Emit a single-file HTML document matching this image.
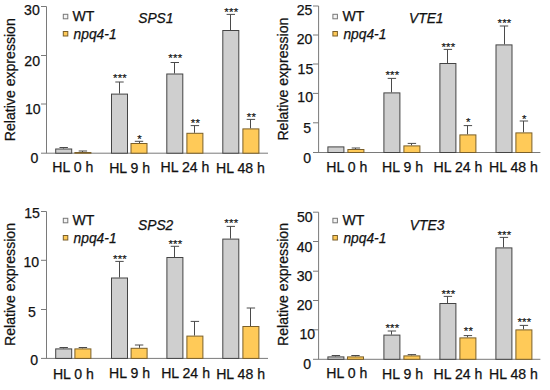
<!DOCTYPE html>
<html><head><meta charset="utf-8"><style>
html,body{margin:0;padding:0;background:#fff;width:550px;height:390px;overflow:hidden}
svg{display:block}
.t{font-family:"Liberation Sans", sans-serif;font-size:14.1px;fill:#111;stroke:#111;stroke-width:0.25px}
.i{font-style:italic;font-size:13.8px}
.s{font-family:"Liberation Sans", sans-serif;font-size:11.5px;fill:#111;stroke:#111;stroke-width:0.15px;letter-spacing:0.2px}
</style></head><body>
<svg width="550" height="390" viewBox="0 0 550 390">
<rect width="550" height="390" fill="#fff"/>
<path d="M46.5 6.5V153.2M41 153.2H268" stroke="#7a7a7a" stroke-width="1" fill="none"/>
<path d="M41 6.5H46.5" stroke="#7a7a7a" stroke-width="1"/>
<path d="M41 55.5H46.5" stroke="#7a7a7a" stroke-width="1"/>
<path d="M41 104H46.5" stroke="#7a7a7a" stroke-width="1"/>
<path d="M63.5 148.5V147.5M59.5 147.5H67.9" stroke="#4a4a4a" stroke-width="1" fill="none"/>
<rect x="55.7" y="149" width="16" height="4.2" fill="#cfcfcf" stroke="#444444" stroke-width="1"/>
<path d="M82.5 152V151M78.7 151H87.1" stroke="#4a4a4a" stroke-width="1" fill="none"/>
<rect x="74.9" y="152.5" width="16" height="0.7" fill="#ffca58" stroke="#7a5f2a" stroke-width="1"/>
<path d="M119.5 93.6V82M115.3 82H123.7" stroke="#4a4a4a" stroke-width="1" fill="none"/>
<rect x="111.5" y="94.1" width="16" height="59.1" fill="#cfcfcf" stroke="#444444" stroke-width="1"/>
<text x="120" y="81.6" text-anchor="middle" class="s">***</text>
<path d="M139.5 143V141.3M134.8 141.3H143.2" stroke="#4a4a4a" stroke-width="1" fill="none"/>
<rect x="131" y="143.5" width="16" height="9.7" fill="#ffca58" stroke="#7a5f2a" stroke-width="1"/>
<text x="139.5" y="143" text-anchor="middle" class="s">*</text>
<path d="M174.5 73.5V62.5M170.6 62.5H179" stroke="#4a4a4a" stroke-width="1" fill="none"/>
<rect x="166.8" y="74" width="16" height="79.2" fill="#cfcfcf" stroke="#444444" stroke-width="1"/>
<text x="175.3" y="62" text-anchor="middle" class="s">***</text>
<path d="M194.5 132.8V125.6M190.7 125.6H199.1" stroke="#4a4a4a" stroke-width="1" fill="none"/>
<rect x="186.9" y="133.3" width="16" height="19.9" fill="#ffca58" stroke="#7a5f2a" stroke-width="1"/>
<text x="195.4" y="127" text-anchor="middle" class="s">**</text>
<path d="M230.5 30V14.4M226.6 14.4H235" stroke="#4a4a4a" stroke-width="1" fill="none"/>
<rect x="222.8" y="30.5" width="16" height="122.7" fill="#cfcfcf" stroke="#444444" stroke-width="1"/>
<text x="231.3" y="16" text-anchor="middle" class="s">***</text>
<path d="M250.5 128.4V119.4M246.7 119.4H255.1" stroke="#4a4a4a" stroke-width="1" fill="none"/>
<rect x="242.9" y="128.9" width="16" height="24.3" fill="#ffca58" stroke="#7a5f2a" stroke-width="1"/>
<text x="251.4" y="121" text-anchor="middle" class="s">**</text>
<rect x="63.3" y="14.3" width="4.5" height="4.5" fill="#f4f4f4" stroke="#777" stroke-width="1"/>
<rect x="63.3" y="31.5" width="4.5" height="4.5" fill="#ffca58" stroke="#7a5f2a" stroke-width="1"/>
<text id="p1_t30" x="39.8" y="15" class="t" text-anchor="end">30</text>
<text id="p1_t20" x="40" y="65.6" class="t" text-anchor="end">20</text>
<text id="p1_t10" x="40.6" y="113.9" class="t" text-anchor="end">10</text>
<text id="p1_t0" x="38.4" y="163.2" class="t" text-anchor="end">0</text>
<text id="p1_wt" x="72.5" y="21.3" class="t">WT</text>
<text id="p1_np" x="73.6" y="38.9" class="t i">npq4-1</text>
<text id="p1_title" x="138.2" y="22.5" class="t i">SPS1</text>
<text id="p1_ylab" transform="translate(15.4 141.2) rotate(-90)" class="t">Relative expression</text>
<text id="p1_x0" x="72.75" y="172.3" class="t" text-anchor="middle">HL 0 h</text>
<text id="p1_x1" x="129.7" y="172.9" class="t" text-anchor="middle">HL 9 h</text>
<text id="p1_x2" x="185" y="172.3" class="t" text-anchor="middle">HL 24 h</text>
<text id="p1_x3" x="240.5" y="172.5" class="t" text-anchor="middle">HL 48 h</text>
<path d="M318.6 6V152.5M313 152.5H540.4" stroke="#7a7a7a" stroke-width="1" fill="none"/>
<path d="M313 6H318.6" stroke="#7a7a7a" stroke-width="1"/>
<path d="M313 35H318.6" stroke="#7a7a7a" stroke-width="1"/>
<path d="M313 64H318.6" stroke="#7a7a7a" stroke-width="1"/>
<path d="M313 93.4H318.6" stroke="#7a7a7a" stroke-width="1"/>
<path d="M313 122.8H318.6" stroke="#7a7a7a" stroke-width="1"/>
<rect x="327.9" y="146.9" width="16" height="5.6" fill="#cfcfcf" stroke="#444444" stroke-width="1"/>
<path d="M355.5 149V148M351.7 148H360.1" stroke="#4a4a4a" stroke-width="1" fill="none"/>
<rect x="347.9" y="149.5" width="16" height="3" fill="#ffca58" stroke="#7a5f2a" stroke-width="1"/>
<path d="M391.5 92.4V78.4M387.7 78.4H396.1" stroke="#4a4a4a" stroke-width="1" fill="none"/>
<rect x="383.9" y="92.9" width="16" height="59.6" fill="#cfcfcf" stroke="#444444" stroke-width="1"/>
<text x="392.4" y="78.8" text-anchor="middle" class="s">***</text>
<path d="M411.5 145.4V143.4M407.7 143.4H416.1" stroke="#4a4a4a" stroke-width="1" fill="none"/>
<rect x="403.9" y="145.9" width="16" height="6.6" fill="#ffca58" stroke="#7a5f2a" stroke-width="1"/>
<path d="M447.5 63V49.4M443.7 49.4H452.1" stroke="#4a4a4a" stroke-width="1" fill="none"/>
<rect x="439.9" y="63.5" width="16" height="89" fill="#cfcfcf" stroke="#444444" stroke-width="1"/>
<text x="448.4" y="51" text-anchor="middle" class="s">***</text>
<path d="M467.5 134.4V125.6M463.7 125.6H472.1" stroke="#4a4a4a" stroke-width="1" fill="none"/>
<rect x="459.9" y="134.9" width="16" height="17.6" fill="#ffca58" stroke="#7a5f2a" stroke-width="1"/>
<text x="468.4" y="126.2" text-anchor="middle" class="s">*</text>
<path d="M504.5 44.4V26M499.8 26H508.2" stroke="#4a4a4a" stroke-width="1" fill="none"/>
<rect x="496" y="44.9" width="16" height="107.6" fill="#cfcfcf" stroke="#444444" stroke-width="1"/>
<text x="504.5" y="27.4" text-anchor="middle" class="s">***</text>
<path d="M523.5 132.4V121M519.7 121H528.1" stroke="#4a4a4a" stroke-width="1" fill="none"/>
<rect x="515.9" y="132.9" width="16" height="19.6" fill="#ffca58" stroke="#7a5f2a" stroke-width="1"/>
<text x="524.4" y="122.8" text-anchor="middle" class="s">*</text>
<rect x="332.9" y="14.3" width="4.5" height="4.5" fill="#f4f4f4" stroke="#777" stroke-width="1"/>
<rect x="332.9" y="31.5" width="4.5" height="4.5" fill="#ffca58" stroke="#7a5f2a" stroke-width="1"/>
<text id="p2_t25" x="312.4" y="15.4" class="t" text-anchor="end">25</text>
<text id="p2_t20" x="312.4" y="44.4" class="t" text-anchor="end">20</text>
<text id="p2_t15" x="313.3" y="73.5" class="t" text-anchor="end">15</text>
<text id="p2_t10" x="313" y="102" class="t" text-anchor="end">10</text>
<text id="p2_t5" x="311.2" y="132.8" class="t" text-anchor="end">5</text>
<text id="p2_t0" x="311.2" y="162.6" class="t" text-anchor="end">0</text>
<text id="p2_wt" x="342.5" y="21.3" class="t">WT</text>
<text id="p2_np" x="343.4" y="38.9" class="t i">npq4-1</text>
<text id="p2_title" x="409" y="22.9" class="t i">VTE1</text>
<text id="p2_ylab" transform="translate(288 140.6) rotate(-90)" class="t">Relative expression</text>
<text id="p2_x0" x="346.8" y="172" class="t" text-anchor="middle">HL 0 h</text>
<text id="p2_x1" x="402.5" y="171.9" class="t" text-anchor="middle">HL 9 h</text>
<text id="p2_x2" x="458" y="171.9" class="t" text-anchor="middle">HL 24 h</text>
<text id="p2_x3" x="513.4" y="171.9" class="t" text-anchor="middle">HL 48 h</text>
<path d="M46.5 211.5V358.4M41 358.4H268" stroke="#7a7a7a" stroke-width="1" fill="none"/>
<path d="M41 211.5H46.5" stroke="#7a7a7a" stroke-width="1"/>
<path d="M41 260.3H46.5" stroke="#7a7a7a" stroke-width="1"/>
<path d="M41 309.5H46.5" stroke="#7a7a7a" stroke-width="1"/>
<path d="M63.5 348.4V347.5M59.5 347.5H67.9" stroke="#4a4a4a" stroke-width="1" fill="none"/>
<rect x="55.7" y="348.9" width="16" height="9.5" fill="#cfcfcf" stroke="#444444" stroke-width="1"/>
<path d="M82.5 348.4V347.5M78.7 347.5H87.1" stroke="#4a4a4a" stroke-width="1" fill="none"/>
<rect x="74.9" y="348.9" width="16" height="9.5" fill="#ffca58" stroke="#7a5f2a" stroke-width="1"/>
<path d="M119.5 277.5V261.4M115.3 261.4H123.7" stroke="#4a4a4a" stroke-width="1" fill="none"/>
<rect x="111.5" y="278" width="16" height="80.4" fill="#cfcfcf" stroke="#444444" stroke-width="1"/>
<text x="120" y="263" text-anchor="middle" class="s">***</text>
<path d="M139.5 347.8V345M134.9 345H143.3" stroke="#4a4a4a" stroke-width="1" fill="none"/>
<rect x="131.1" y="348.3" width="16" height="10.1" fill="#ffca58" stroke="#7a5f2a" stroke-width="1"/>
<path d="M174.5 257V246.3M170.7 246.3H179.1" stroke="#4a4a4a" stroke-width="1" fill="none"/>
<rect x="166.9" y="257.5" width="16" height="100.9" fill="#cfcfcf" stroke="#444444" stroke-width="1"/>
<text x="175.4" y="247.8" text-anchor="middle" class="s">***</text>
<path d="M194.5 335.6V321.4M190.7 321.4H199.1" stroke="#4a4a4a" stroke-width="1" fill="none"/>
<rect x="186.9" y="336.1" width="16" height="22.3" fill="#ffca58" stroke="#7a5f2a" stroke-width="1"/>
<path d="M230.5 238.6V226.4M226.6 226.4H235" stroke="#4a4a4a" stroke-width="1" fill="none"/>
<rect x="222.8" y="239.1" width="16" height="119.3" fill="#cfcfcf" stroke="#444444" stroke-width="1"/>
<text x="231.3" y="227.4" text-anchor="middle" class="s">***</text>
<path d="M250.5 326V308M246.7 308H255.1" stroke="#4a4a4a" stroke-width="1" fill="none"/>
<rect x="242.9" y="326.5" width="16" height="31.9" fill="#ffca58" stroke="#7a5f2a" stroke-width="1"/>
<rect x="63.3" y="218.3" width="4.5" height="4.5" fill="#f4f4f4" stroke="#777" stroke-width="1"/>
<rect x="63.3" y="235.5" width="4.5" height="4.5" fill="#ffca58" stroke="#7a5f2a" stroke-width="1"/>
<text id="p3_t15" x="39.9" y="217.8" class="t" text-anchor="end">15</text>
<text id="p3_t10" x="39.2" y="266.8" class="t" text-anchor="end">10</text>
<text id="p3_t5" x="35.9" y="317.3" class="t" text-anchor="end">5</text>
<text id="p3_t0" x="38.2" y="365.2" class="t" text-anchor="end">0</text>
<text id="p3_wt" x="72.5" y="225.3" class="t">WT</text>
<text id="p3_np" x="73.6" y="242.9" class="t i">npq4-1</text>
<text id="p3_title" x="138" y="229.9" class="t i">SPS2</text>
<text id="p3_ylab" transform="translate(15.4 346) rotate(-90)" class="t">Relative expression</text>
<text id="p3_x0" x="73.4" y="378.5" class="t" text-anchor="middle">HL 0 h</text>
<text id="p3_x1" x="129.6" y="377.9" class="t" text-anchor="middle">HL 9 h</text>
<text id="p3_x2" x="185.55" y="378.3" class="t" text-anchor="middle">HL 24 h</text>
<text id="p3_x3" x="240.6" y="378.7" class="t" text-anchor="middle">HL 48 h</text>
<path d="M318.6 212.2V359.3M313 359.3H540.4" stroke="#7a7a7a" stroke-width="1" fill="none"/>
<path d="M313 212.2H318.6" stroke="#7a7a7a" stroke-width="1"/>
<path d="M313 241.5H318.6" stroke="#7a7a7a" stroke-width="1"/>
<path d="M313 271.2H318.6" stroke="#7a7a7a" stroke-width="1"/>
<path d="M313 300.5H318.6" stroke="#7a7a7a" stroke-width="1"/>
<path d="M313 329.8H318.6" stroke="#7a7a7a" stroke-width="1"/>
<path d="M335.5 356.4V355.5M331.7 355.5H340.1" stroke="#4a4a4a" stroke-width="1" fill="none"/>
<rect x="327.9" y="356.9" width="16" height="2.4" fill="#cfcfcf" stroke="#444444" stroke-width="1"/>
<path d="M355.5 356.4V355.5M351.3 355.5H359.7" stroke="#4a4a4a" stroke-width="1" fill="none"/>
<rect x="347.5" y="356.9" width="16" height="2.4" fill="#ffca58" stroke="#7a5f2a" stroke-width="1"/>
<path d="M391.5 334.6V331M387.7 331H396.1" stroke="#4a4a4a" stroke-width="1" fill="none"/>
<rect x="383.9" y="335.1" width="16" height="24.2" fill="#cfcfcf" stroke="#444444" stroke-width="1"/>
<text x="392.4" y="332" text-anchor="middle" class="s">***</text>
<path d="M411.5 355.4V354.6M407.7 354.6H416.1" stroke="#4a4a4a" stroke-width="1" fill="none"/>
<rect x="403.9" y="355.9" width="16" height="3.4" fill="#ffca58" stroke="#7a5f2a" stroke-width="1"/>
<path d="M447.5 303V296.4M443.7 296.4H452.1" stroke="#4a4a4a" stroke-width="1" fill="none"/>
<rect x="439.9" y="303.5" width="16" height="55.8" fill="#cfcfcf" stroke="#444444" stroke-width="1"/>
<text x="448.4" y="298.4" text-anchor="middle" class="s">***</text>
<path d="M467.5 337.4V335.6M463.7 335.6H472.1" stroke="#4a4a4a" stroke-width="1" fill="none"/>
<rect x="459.9" y="337.9" width="16" height="21.4" fill="#ffca58" stroke="#7a5f2a" stroke-width="1"/>
<text x="468.4" y="334.6" text-anchor="middle" class="s">**</text>
<path d="M503.5 247.4V237.4M499.7 237.4H508.1" stroke="#4a4a4a" stroke-width="1" fill="none"/>
<rect x="495.9" y="247.9" width="16" height="111.4" fill="#cfcfcf" stroke="#444444" stroke-width="1"/>
<text x="504.4" y="238.6" text-anchor="middle" class="s">***</text>
<path d="M523.5 329.4V325.4M519.7 325.4H528.1" stroke="#4a4a4a" stroke-width="1" fill="none"/>
<rect x="515.9" y="329.9" width="16" height="29.4" fill="#ffca58" stroke="#7a5f2a" stroke-width="1"/>
<text x="524.4" y="326" text-anchor="middle" class="s">***</text>
<rect x="332.9" y="218.3" width="4.5" height="4.5" fill="#f4f4f4" stroke="#777" stroke-width="1"/>
<rect x="332.9" y="235.5" width="4.5" height="4.5" fill="#ffca58" stroke="#7a5f2a" stroke-width="1"/>
<text id="p4_t50" x="312.6" y="222.1" class="t" text-anchor="end">50</text>
<text id="p4_t40" x="312.4" y="251.8" class="t" text-anchor="end">40</text>
<text id="p4_t30" x="312.4" y="280.7" class="t" text-anchor="end">30</text>
<text id="p4_t20" x="312.4" y="309.7" class="t" text-anchor="end">20</text>
<text id="p4_t10" x="315.1" y="338.9" class="t" text-anchor="end">10</text>
<text id="p4_t0" x="311.2" y="368.9" class="t" text-anchor="end">0</text>
<text id="p4_wt" x="342.5" y="225.3" class="t">WT</text>
<text id="p4_np" x="343.4" y="242.9" class="t i">npq4-1</text>
<text id="p4_title" x="409.8" y="229.9" class="t i">VTE3</text>
<text id="p4_ylab" transform="translate(288 346) rotate(-90)" class="t">Relative expression</text>
<text id="p4_x0" x="346.8" y="378.4" class="t" text-anchor="middle">HL 0 h</text>
<text id="p4_x1" x="402.5" y="379" class="t" text-anchor="middle">HL 9 h</text>
<text id="p4_x2" x="457.95" y="378.8" class="t" text-anchor="middle">HL 24 h</text>
<text id="p4_x3" x="513.4" y="379" class="t" text-anchor="middle">HL 48 h</text>
</svg>
</body></html>
